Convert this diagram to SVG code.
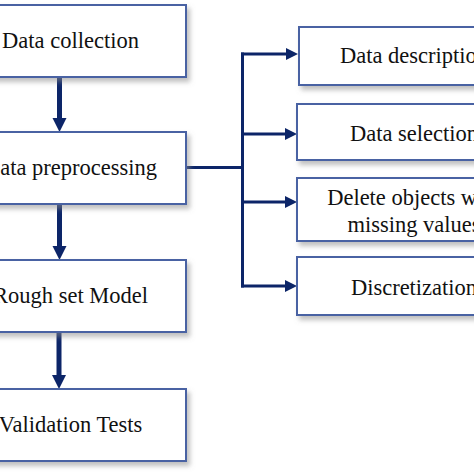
<svg xmlns="http://www.w3.org/2000/svg" width="474" height="474" viewBox="0 0 474 474">
<defs>
<filter id="sh" x="-20%" y="-20%" width="140%" height="160%">
<feDropShadow dx="3" dy="4" stdDeviation="2.5" flood-color="#8a8a8a" flood-opacity="0.55"/>
</filter>
<style>
.box{fill:#ffffff;stroke:#4a62a3;stroke-width:2;filter:url(#sh)}
.t{font-family:"Liberation Serif","Times New Roman",serif;font-size:22.5px;fill:#111111;text-anchor:middle}
.thick{stroke:#0c2568;stroke-width:5;fill:none}
.thin{stroke:#0c2568;stroke-width:3;fill:none}
.head{fill:#0c2568}
</style>
</defs>
<rect width="474" height="474" fill="#ffffff"/>
<g id="connectors">
<line class="thick" x1="59.5" y1="77" x2="59.5" y2="120"/>
<polygon class="head" points="52.5,118 66.5,118 59.5,132"/>
<line class="thick" x1="59.5" y1="204" x2="59.5" y2="248"/>
<polygon class="head" points="52.5,246 66.5,246 59.5,260"/>
<line class="thick" x1="59" y1="332" x2="59" y2="377"/>
<polygon class="head" points="52,375 66,375 59,389"/>
<polyline class="thin" points="186,167.5 242.5,167.5"/>
<line class="thin" x1="242.5" y1="52.5" x2="242.5" y2="287.5"/>
<line class="thin" x1="241" y1="54" x2="287" y2="54"/>
<polygon class="head" points="286,48 298,54 286,60"/>
<line class="thin" x1="241" y1="134" x2="286" y2="134"/>
<polygon class="head" points="285,128 297,134 285,140"/>
<line class="thin" x1="241" y1="202" x2="286" y2="202"/>
<polygon class="head" points="285,196 297,202 285,208"/>
<line class="thin" x1="241" y1="286" x2="286" y2="286"/>
<polygon class="head" points="285,280 297,286 285,292"/>
</g>
<g id="n1"><rect class="box" x="-45" y="5" width="231" height="72"/><text class="t" x="70.5" y="48">Data collection</text></g>
<g id="n2"><rect class="box" x="-45" y="132" width="231" height="72"/><text class="t" x="70.5" y="175">Data preprocessing</text></g>
<g id="n3"><rect class="box" x="-45" y="260" width="231" height="72"/><text class="t" x="70.5" y="303">Rough set Model</text></g>
<g id="n4"><rect class="box" x="-45" y="389" width="231" height="72"/><text class="t" x="70.5" y="432">Validation Tests</text></g>
<g id="r1"><rect class="box" x="299" y="27" width="240" height="58"/><text class="t" x="414" y="63">Data description</text></g>
<g id="r2"><rect class="box" x="297" y="104" width="242" height="56"/><text class="t" x="414" y="141">Data selection</text></g>
<g id="r3"><rect class="box" x="297" y="178" width="242" height="63"/><text class="t" x="414" y="205">Delete objects with</text><text class="t" x="414" y="232">missing values</text></g>
<g id="r4"><rect class="box" x="297" y="257" width="242" height="58"/><text class="t" x="414" y="295">Discretization</text></g>
</svg>
